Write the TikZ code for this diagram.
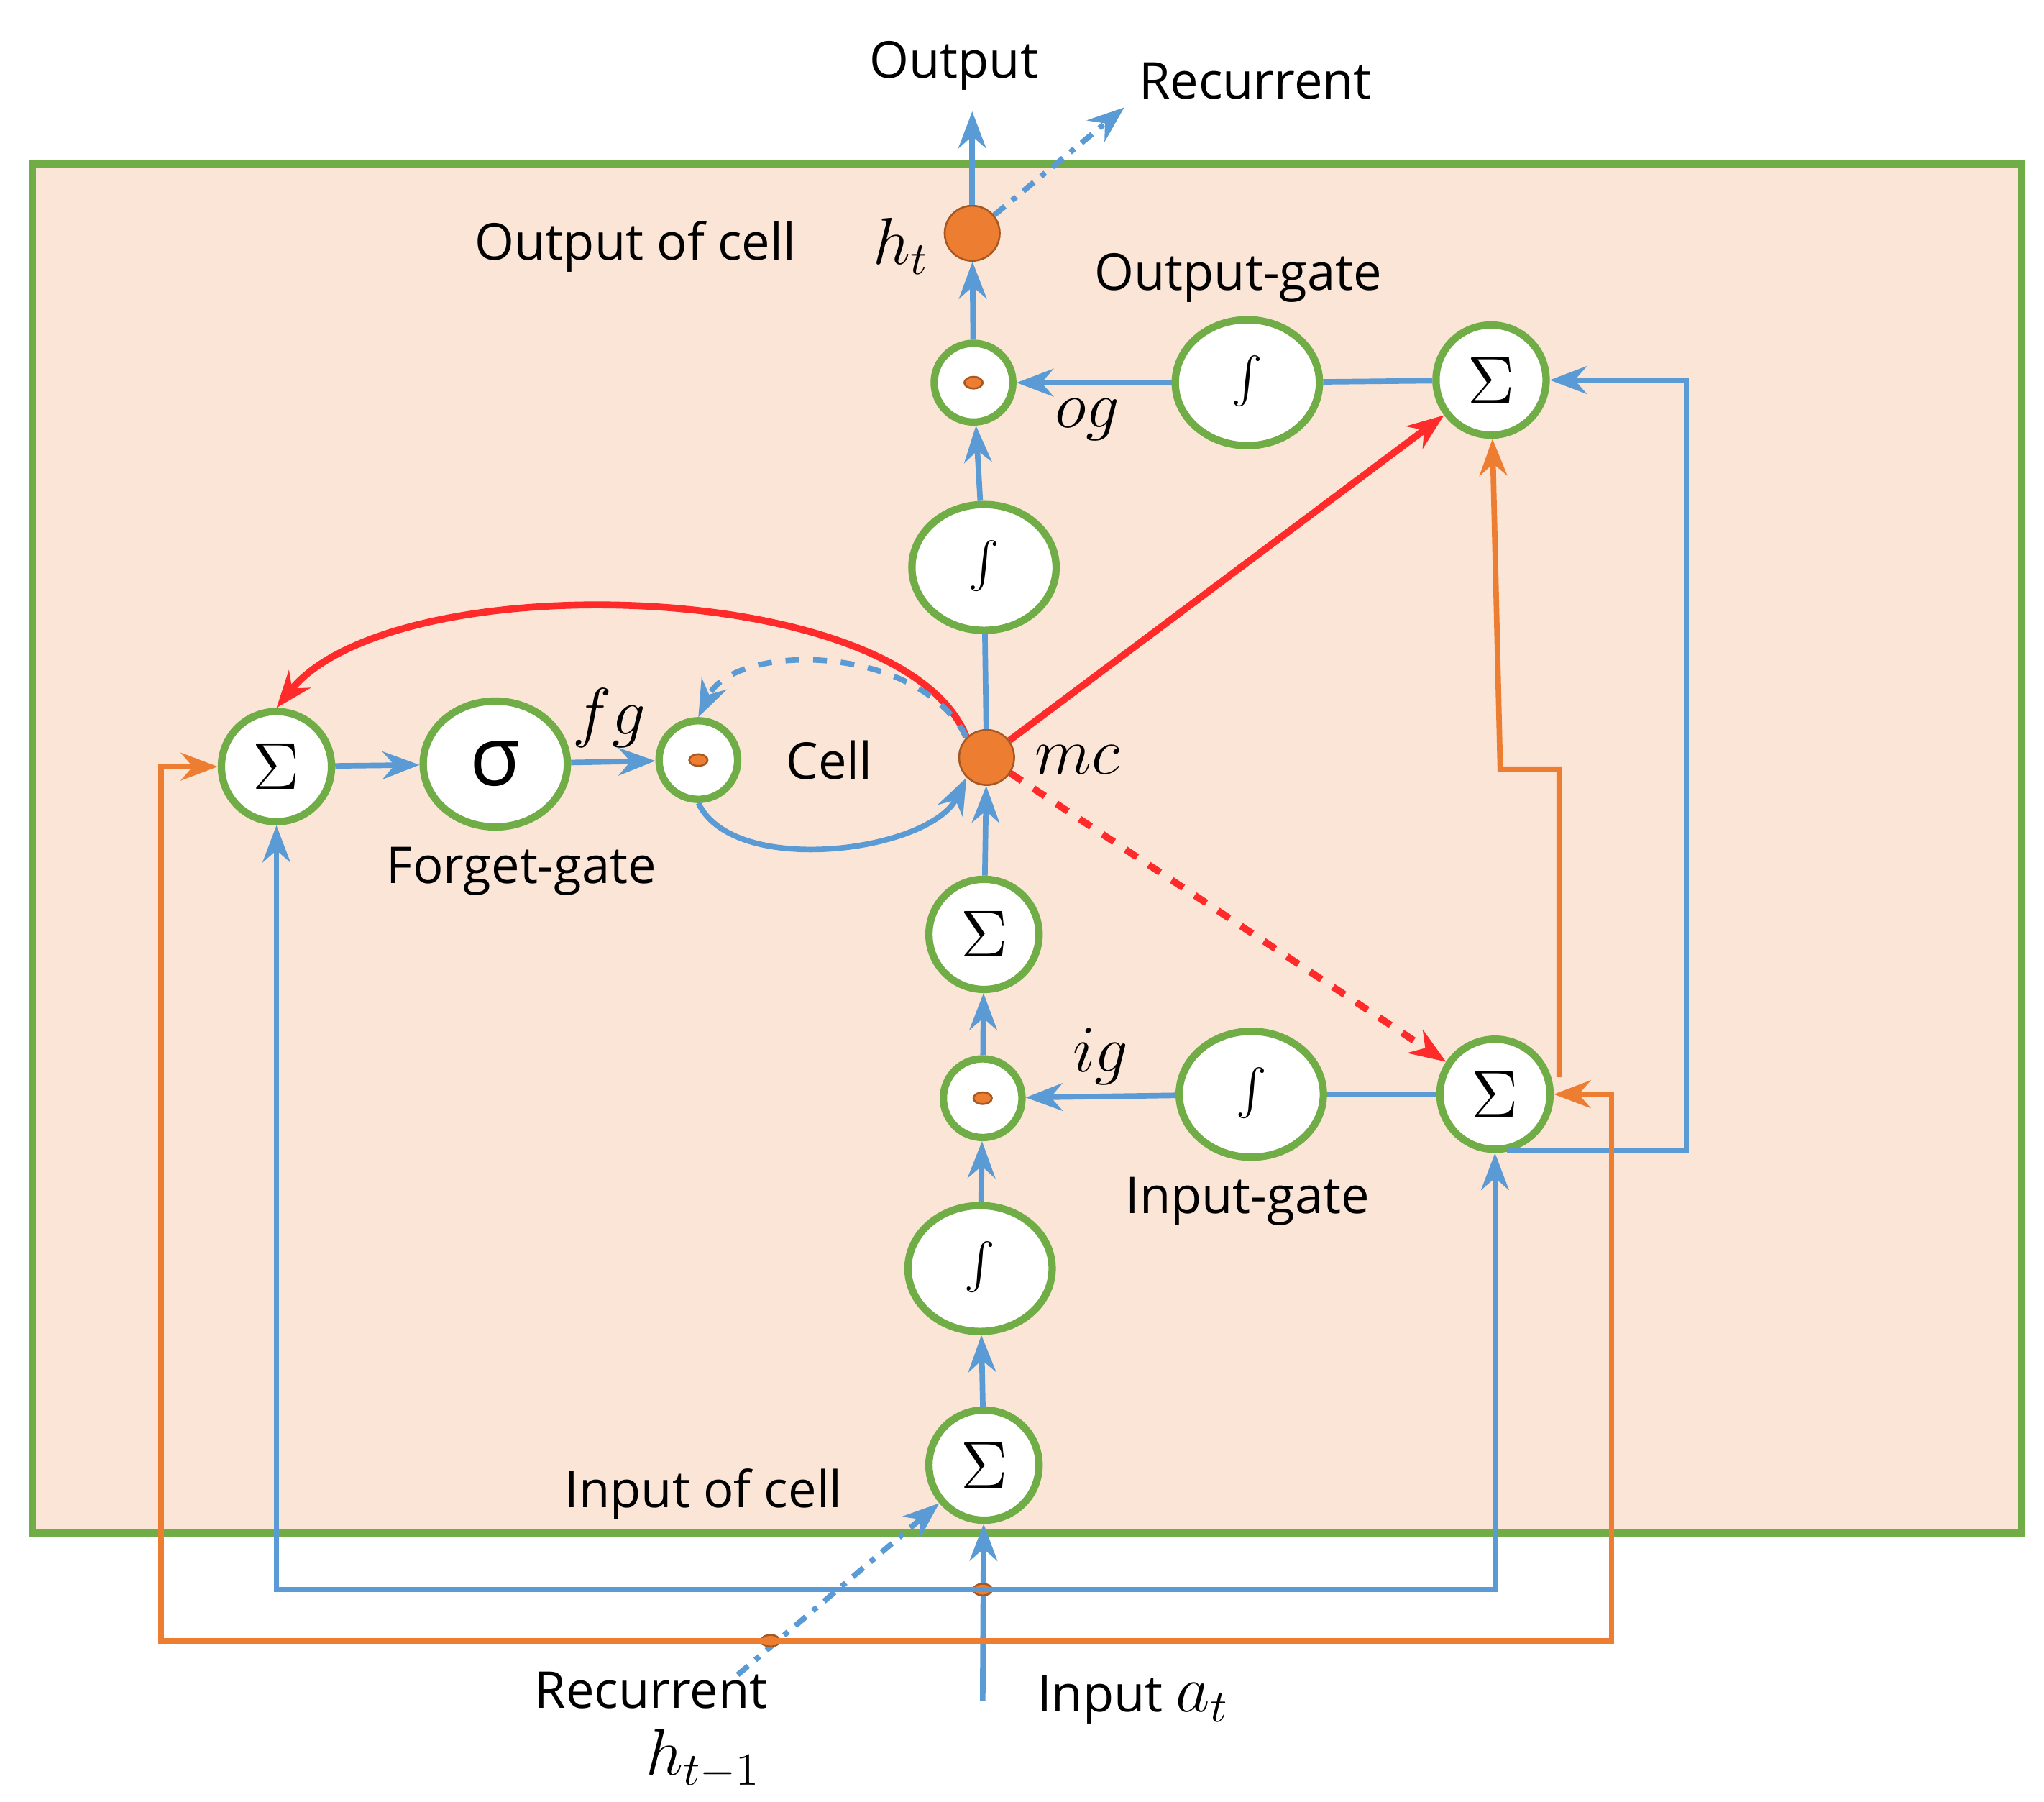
\documentclass[tikz,border=0pt]{standalone}
\usepackage{fontspec}
\setmainfont{Open Sans}
\usetikzlibrary{arrows.meta,calc,shapes.geometric}
\definecolor{cblue}{HTML}{5B9BD5}
\definecolor{corange}{HTML}{ED7D31}
\definecolor{cgreen}{HTML}{70AD47}
\definecolor{cred}{HTML}{FF2A2A}
\definecolor{cpeach}{HTML}{FBE5D6}
\begin{document}
\begin{tikzpicture}[x=0.01cm,y=-0.01cm,>={Stealth[length=8pt,width=6pt]},
  font=\fontsize{11}{13}\selectfont,
  mt/.style={font=\fontsize{14}{16}\selectfont},
  op/.style={draw=cgreen,line width=1.6pt,fill=white,ellipse,minimum width=1.1cm,minimum height=0.96cm,inner sep=0pt,font=\fontsize{26}{28}\selectfont},
  sm/.style={draw=cgreen,line width=1.6pt,fill=white,circle,minimum size=0.84cm,inner sep=0pt,font=\fontsize{15}{17}\selectfont},
  mul/.style={draw=cgreen,line width=1.6pt,fill=white,circle,minimum size=0.6cm,inner sep=0pt},
  dot/.style={draw=corange!70!black,fill=corange,ellipse,minimum width=0.14cm,minimum height=0.09cm,inner sep=0pt},
  big/.style={draw=corange!70!black,fill=corange,circle,minimum size=0.42cm,inner sep=0pt},
  bl/.style={cblue,line width=1.2pt},
  orl/.style={corange,line width=1.2pt},
  rd/.style={cred,line width=1.5pt}]
\useasboundingbox (0,0) rectangle (1560,1375);
\fill[cpeach] (25,125) rectangle (1543,1170);
\draw[cgreen,line width=1.5pt] (25,125) rectangle (1543,1170);
% nodes
\node[big] (ht) at (742,178) {};
\node[mul] (ogm) at (743,292) {}; \node[dot] at (743,292) {};
\node[op] (ogi) at (952,292) {$\int$};
\node[sm] (ogs) at (1138,290) {$\Sigma$};
\node[op] (mi) at (751,433) {$\int$};
\node[big] (mc) at (753,578) {};
\node[sm] (fgs) at (211,585) {$\Sigma$};
\node[op,font=\fontsize{18}{20}\selectfont] (sig) at (378,583) {σ};
\node[mul] (fgm) at (533,580) {}; \node[dot] at (533,580) {};
\node[sm] (ms) at (751,713) {$\Sigma$};
\node[mul] (igm) at (750,838) {}; \node[dot] at (750,838) {};
\node[op] (igi) at (955,835) {$\int$};
\node[sm] (igs) at (1141,835) {$\Sigma$};
\node[op] (li) at (748,968) {$\int$};
\node[sm] (ins) at (751,1118) {$\Sigma$};
% texts
\node (tout) at (728,50) {Output};
\node (trec) at (958,62) {Recurrent};
\node (toc) at (485,188) {Output of cell};
\node[mt] (tht) at (688,188) {$h_t$};
\node (tog) at (945,212) {Output-gate};
\node[mt] (tog2) at (830,320) {$og$};
\node[mt] (tmc) at (822,580) {$mc$};
\node[mt] (tfg) at (465,548) {$fg$};
\node (tcell) at (633,580) {Cell};
\node (tfgate) at (398,665) {Forget-gate};
\node[mt] (tig) at (840,806) {$ig$};
\node (tigate) at (952,917) {Input-gate};
\node (tic) at (537,1140) {Input of cell};
\node (trec2) at (497,1290) {Recurrent};
\node[mt] (tht1) at (537,1342) {$h_{t-1}$};
\node (tin) at (865,1297) {Input {\fontsize{14}{16}\selectfont$a_t$}};
% coordinates
\coordinate (oend) at (742,85);
\coordinate (rend) at (858,82);
\coordinate (inbot) at (750,1298);
\coordinate (recst) at (563,1278);
\coordinate (bj) at (750,1213);
\coordinate (oj) at (588,1252);
% vertical chain
\draw[bl,->] (inbot) -- (ins);
\draw[bl,->] (ins) -- (li);
\draw[bl,->] (li) -- (igm);
\draw[bl,->] (igm) -- (ms);
\draw[bl,->] (ms) -- (mc);
\draw[bl] (mc) -- (mi);
\draw[bl,->] (mi) -- (ogm);
\draw[bl,->] (ogm) -- (ht);
\draw[bl,->] (ht) -- (oend);
\draw[bl,->,dash dot] (ht) -- (rend);
\draw[bl,->,dash dot] (recst) -- (ins);
% gates
\draw[bl,->] (ogi) -- (ogm);
\draw[bl] (ogs) -- (ogi);
\draw[bl,->] (igi) -- (igm);
\draw[bl] (igs) -- (igi);
\draw[bl,->] (fgs) -- (sig);
\draw[bl,->] (sig) -- (fgm);
% cell curves
\draw[rd,->] (mc.north west) .. controls (690,440) and (300,430) .. (fgs.north);
\draw[bl,->,dashed] (mc.north west) .. controls (700,490) and (560,490) .. (fgm.north);
\draw[bl,->] (fgm.south) .. controls (560,670) and (710,650) .. (mc.south west);
\draw[rd,->] (mc) -- (ogs);
\draw[rd,->,dashed] (mc) -- (igs);
% blue input distribution
\node[dot] (bdot) at (bj) {};
\draw[bl,->] (bj) -| (fgs);
\draw[bl,->] (bj) -| (igs);
\coordinate (ba) at (1150,878);
\draw[bl,->] (ba) -- (1287,878) |- (ogs);
% orange recurrent distribution
\node[dot] (odot) at (oj) {};
\draw[orl,->] (oj) -| (123,585) -- (fgs);
\draw[orl,->] (oj) -| (1230,835) -- (igs);
\coordinate (oa) at (1190,822);
\draw[orl,->] (oa) |- (1145,587) -- (ogs);
\end{tikzpicture}
\end{document}
